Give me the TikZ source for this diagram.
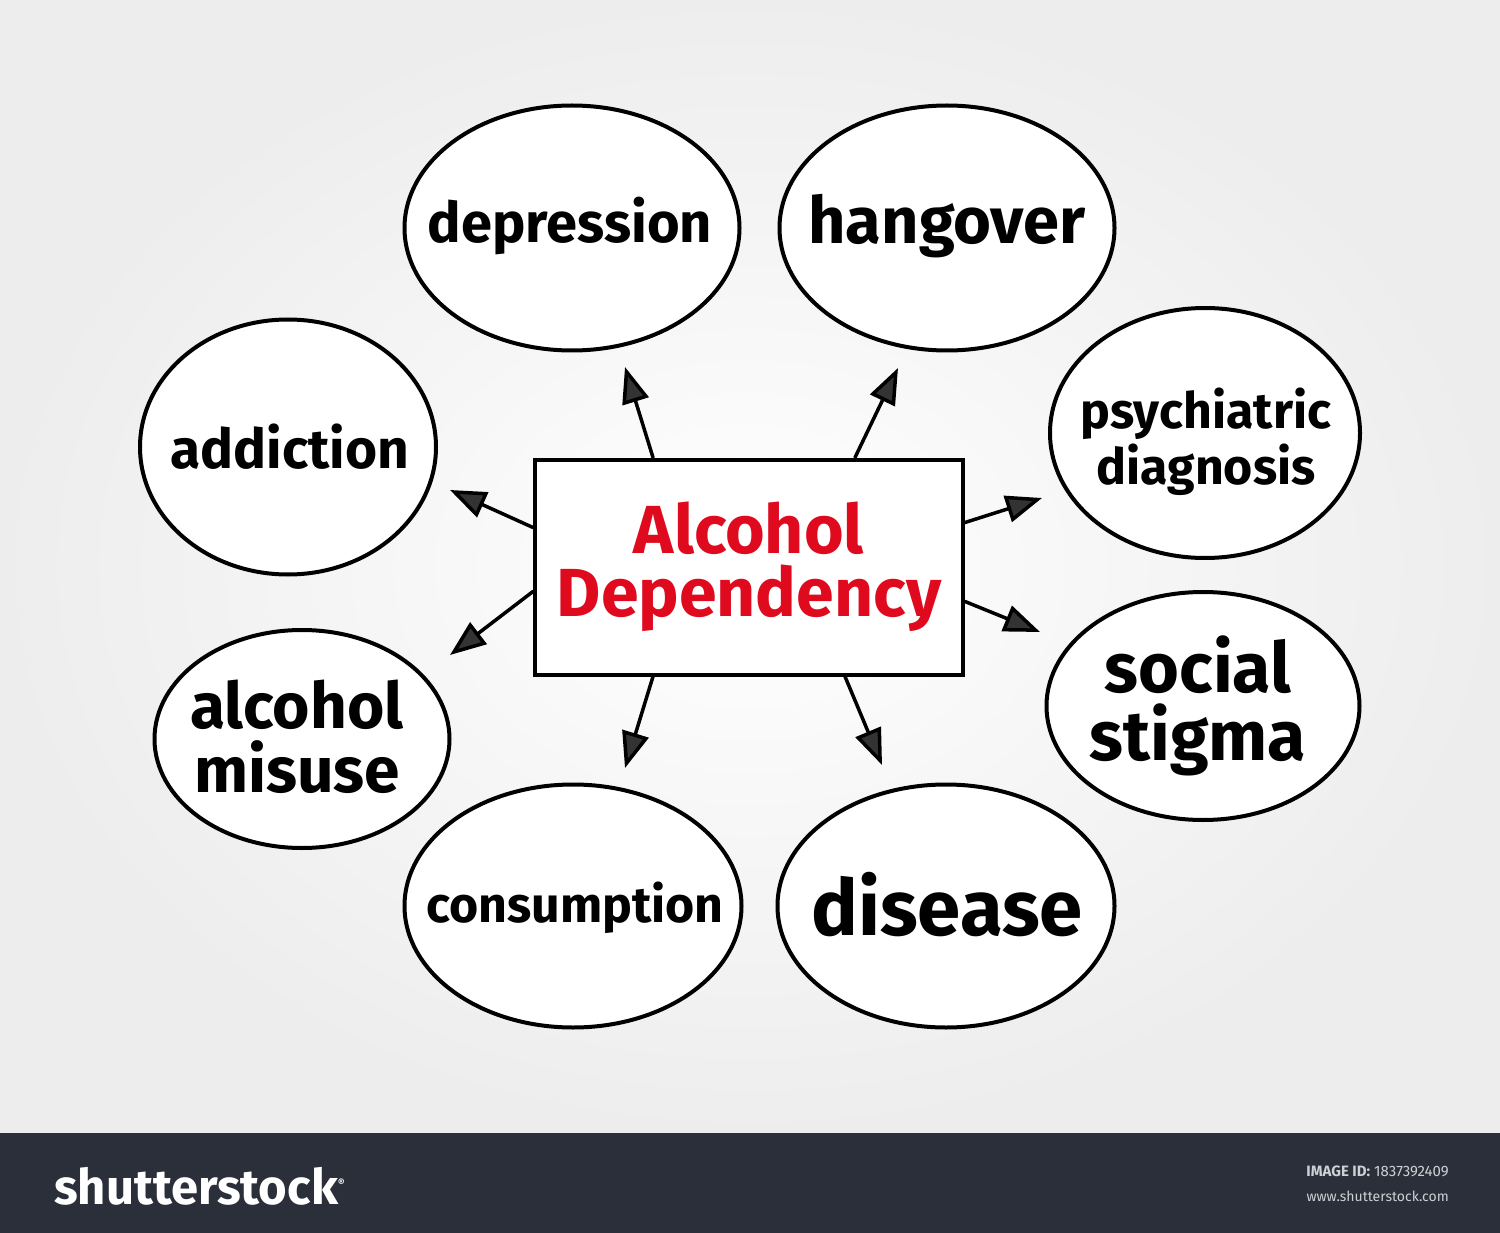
\documentclass[tikz,border=0pt]{standalone}
\usepackage{fontspec}
\setmainfont{Fira Sans}
\usetikzlibrary{shapes.geometric,arrows.meta}
\definecolor{alred}{RGB}{224,10,30}
\definecolor{footbg}{RGB}{42,47,57}
\definecolor{foottxt}{RGB}{205,208,212}
\begin{document}
\begin{tikzpicture}[x=1pt,y=-1pt,
  bubble/.style={ellipse,draw=black,line width=4pt,inner sep=0pt,fill=white},
  btext/.style={align=center,inner sep=0pt,font=\fontsize{#1}{#1}\selectfont\bfseries},
  arr/.style={line width=3.5pt,-{Triangle[length=36pt,width=27pt,fill=black!80]},line cap=round},
  ctrbox/.style={rectangle,draw=black,line width=4pt,fill=white,minimum width=428pt,minimum height=215pt,align=center,inner sep=0pt,text=alred,font=\fontsize{68}{67}\selectfont\bfseries}]
\shade[inner color=white,outer color=black!7] (0,0) rectangle (1500,1133);
\useasboundingbox (0,0) rectangle (1500,1233);
% center
\node[ctrbox] (ctr) at (749,567) {Alcohol\\[-4pt]Dependency};
% bubbles
\node[bubble,minimum width=335pt,minimum height=245pt] (dep) at (572,228) {};
\node[bubble,minimum width=335pt,minimum height=245pt] (hang) at (947,228) {};
\node[bubble,minimum width=296pt,minimum height=255pt] (add) at (288,447) {};
\node[bubble,minimum width=310pt,minimum height=250pt] (psy) at (1205,433) {};
\node[bubble,minimum width=295pt,minimum height=218pt] (mis) at (302,739) {};
\node[bubble,minimum width=313pt,minimum height=228pt] (soc) at (1203,706) {};
\node[bubble,minimum width=337pt,minimum height=243pt] (con) at (573,906) {};
\node[bubble,minimum width=337pt,minimum height=243pt] (dis) at (946,906) {};
% bubble texts
\node[btext=56] (depT) at (570,226) {depression};
\node[btext=65] (hangT) at (947,226) {hangover};
\node[btext=55] (addT) at (290,447) {addiction};
\node[btext=50,font=\fontsize{50}{56}\selectfont\bfseries] (psyT) at (1206,442) {psychiatric\\diagnosis};
\node[btext=64,font=\fontsize{64}{64}\selectfont\bfseries] (misT) at (297,737) {alcohol\\misuse};
\node[btext=70,font=\fontsize{70}{68}\selectfont\bfseries] (socT) at (1198,706) {social\\stigma};
\node[btext=50] (conT) at (575,908) {consumption};
\node[btext=78] (disT) at (947,905) {disease};
% arrow tips
\coordinate (tdep) at (625,367);
\coordinate (thang) at (898,368);
\coordinate (tadd) at (450,490);
\coordinate (tmis) at (450,655);
\coordinate (tpsy) at (1042,498);
\coordinate (tsoc) at (1040,632);
\coordinate (tcon) at (625,768);
\coordinate (tdis) at (882,765);
% arrows
\draw[arr] ([xshift=120pt]ctr.north west) -- (tdep);
\draw[arr] ([xshift=-110pt]ctr.north east) -- (thang);
\draw[arr] ([yshift=-70pt]ctr.north west) -- (tadd);
\draw[arr] ([yshift=85pt]ctr.south west) -- (tmis);
\draw[arr] ([yshift=-65pt]ctr.north east) -- (tpsy);
\draw[arr] ([yshift=75pt]ctr.south east) -- (tsoc);
\draw[arr] ([xshift=120pt]ctr.south west) -- (tcon);
\draw[arr] ([xshift=-120pt]ctr.south east) -- (tdis);
% footer
\fill[footbg] (0,1133) rectangle (1500,1233);
\node[anchor=west,text=white,inner sep=0pt,font=\fontsize{49}{49}\selectfont\bfseries] (logo) at (54,1186) {shutterstock\raisebox{18pt}{\fontsize{10}{10}\selectfont\textregistered}};
\node[anchor=east,text=foottxt,inner sep=0pt,font=\fontsize{15}{15}\selectfont] (imgid) at (1449,1171) {\textbf{IMAGE ID:} 1837392409};
\node[anchor=east,text=foottxt,inner sep=0pt,font=\fontsize{14}{14}\selectfont] (url) at (1449,1196) {www.shutterstock.com};
\end{tikzpicture}
\end{document}
